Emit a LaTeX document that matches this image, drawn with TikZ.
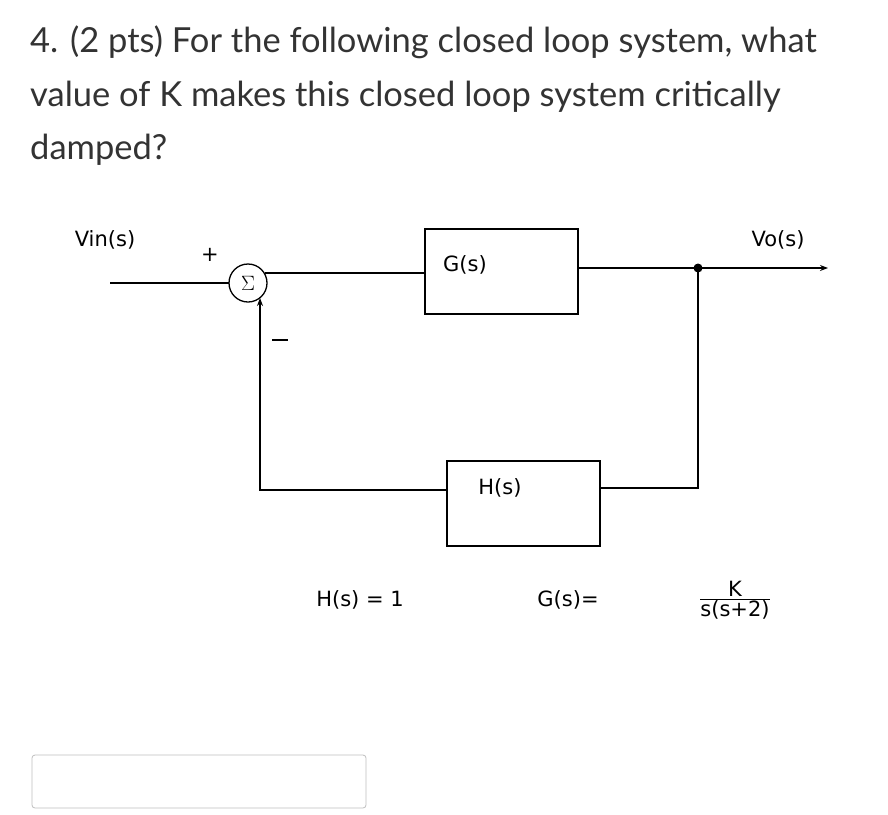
\documentclass[tikz,border=0pt]{standalone}
\usepackage{fontspec}
\setmainfont{Lato}
\newfontfamily\hand{DejaVu Sans}
\usetikzlibrary{arrows.meta}
\begin{document}
\begin{tikzpicture}[x=1pt,y=-1pt,
  wire/.style={line width=1.3pt,black},
  blk/.style={draw,line width=1.3pt,minimum width=153pt,minimum height=85pt},
  lbl/.style={font=\hand\fontsize{21}{24}\selectfont},
  q/.style={font=\fontsize{34.5}{40}\selectfont,text=black!80,anchor=west,inner sep=0}]
\useasboundingbox (0,0) rectangle (888,814);
\fill[white] (0,0) rectangle (888,814);
\node[q] (t1) at (30,42) {4. (2 pts) For the following closed loop system, what};
\node[q] (t2) at (30,97) {value of K makes this closed loop system critically};
\node[q] (t3) at (30,150) {damped?};
\coordinate (sc) at (248,283);
\draw[line width=1.3pt] (sc) circle (19);
\node[font=\hand\fontsize{20}{22}\selectfont] (sum) at (sc) {$\Sigma$};
\coordinate (in) at (110,283);
\node[blk] (G) at (501.5,271.5) {};
\node[lbl] (Gl) at (465,265) {G(s)};
\node[blk] (H) at (523.5,503.5) {};
\node[lbl] (Hl) at (500,488) {H(s)};
\coordinate (out) at (828,268);
\coordinate (br) at (698,268);
\coordinate (br2) at (698,488);
\coordinate (c1) at (260,490);
\coordinate (sw) at (229,283);
\coordinate (sne) at (265,273);
\coordinate (ss) at (260,298);
\draw[wire] (in) -- (sw);
\draw[wire] (sne) -- (G.west |- sne);
\draw[wire,-{Stealth[length=8pt]}] (G.east |- out) -- (out);
\fill (br) circle (4.5);
\draw[wire] (br) -- (br2) -- (H.east |- br2);
\draw[wire,-{Stealth[length=8pt]}] (H.west |- c1) -- (c1) -- (ss);
\node[lbl] (vin) at (105,240) {Vin(s)};
\node[lbl] (plus) at (210,255) {+};
\coordinate (m1) at (272,340);
\coordinate (m2) at (288,340);
\draw[line width=2pt] (m1) -- (m2);
\node[lbl] (vo) at (778,240) {Vo(s)};
\node[lbl] (h1) at (360,600) {H(s) = 1};
\node[lbl] (g1) at (568,600) {G(s)=};
\node[lbl] (fr) at (735,600) {$\frac{\mbox{\hand K}}{\mbox{\hand s(s+2)}}$};
\draw[rounded corners=3pt,black!25,line width=0.8pt] (32,755) rectangle (366,808);
\end{tikzpicture}
\end{document}
